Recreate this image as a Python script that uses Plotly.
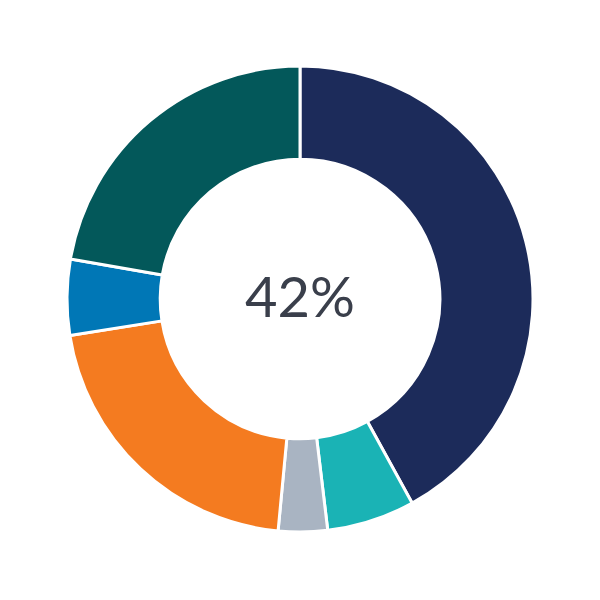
import plotly.graph_objects as go

labels = ["Segment A", "Segment B", "Segment C", "Segment D", "Segment E", "Segment F"]
values = [42, 6.1, 3.4, 21, 5.25, 22.25]
colors = ["#1c2b5a", "#1ab3b5", "#a9b4c2", "#f47b20", "#0077b6", "#03585a"]
center_text = "42%"

fig = go.Figure(go.Pie(
    labels=labels,
    values=values,
    hole=0.6,
    sort=False,
    direction="clockwise",
    rotation=0,
    marker=dict(colors=colors, line=dict(color="white", width=3)),
    textinfo="none",
    hoverinfo="label+percent",
    showlegend=False,
))

fig.add_annotation(
    text=center_text, x=0.5, y=0.5, xref="paper", yref="paper", yshift=4,
    showarrow=False, font=dict(family="Lato", size=56, color="#3a3f4b"),
)

fig.update_layout(
    width=600, height=600,
    margin=dict(l=59, r=75, t=58, b=76),
    paper_bgcolor="white",
    plot_bgcolor="white",
)

fig.write_html("out.html")
